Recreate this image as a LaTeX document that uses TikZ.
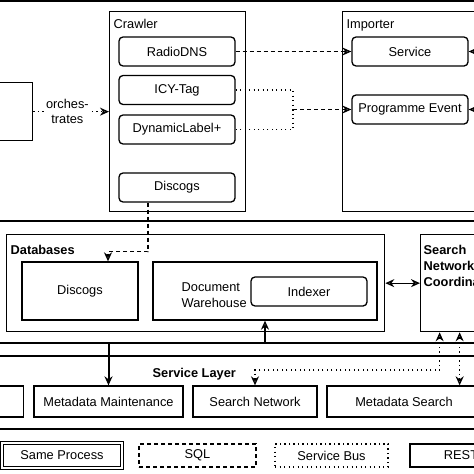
\documentclass[tikz,border=0pt]{standalone}
\usepackage{fontspec}
\setmainfont{Liberation Sans}
\usetikzlibrary{arrows.meta,calc}

\begin{document}
\begin{tikzpicture}[x=1pt, y=-1pt, line width=1.3pt, >={Stealth[length=9pt,width=8pt,fill=gray!40]},
    font=\fontsize{12.8}{16}\selectfont,
    box/.style={draw, minimum width=#1, minimum height=29pt, inner sep=0pt},
    box/.default=116pt,
    rbox/.style={box=#1, rounded corners=4pt},
    rbox/.default=116pt,
    layer/.style={draw, inner sep=0pt, anchor=north west},
    title/.style={anchor=base west, inner sep=0pt},
    sql/.style={dash pattern=on 4pt off 3pt},
    bus/.style={dash pattern=on 1.2pt off 3.3pt},
    proc/.style={line width=2pt}]
    \fill[white] (0,0) rectangle (474,474);
    \path[use as bounding box] (0,0) rectangle (474,474);
    \clip (0,0) rectangle (474,474);
    % layer borders
    \draw[line width=2.5pt] (-5,0.5) -- (479,0.5);
    \draw[line width=2pt] (-5,221) -- (479,221);
    \draw (-5,343) -- (479,343);
    \draw (-5,356) -- (479,356);
    \draw[proc] (-5,428.5) -- (479,428.5);
    % crawler and importer
    \node[layer, minimum width=90pt, minimum height=58pt] (orch) at (-58,82) {};
    \node[layer, minimum width=136pt, minimum height=200pt] (crawler) at (109,11) {};
    \node[title] at (113,28) {Crawler};
    \node[rbox] (radiodns) at (177,51.5) {RadioDNS};
    \node[rbox] (icy) at (177,90) {ICY-Tag};
    \node[rbox] (dls) at (177,129.5) {DynamicLabel+};
    \node[rbox] (crdiscogs) at (177,187.5) {Discogs};
    \node[layer, minimum width=180pt, minimum height=200pt] (importer) at (342,11) {};
    \node[title] at (346,28) {Importer};
    \node[rbox] (service) at (410,51.5) {Service};
    \node[rbox] (progevent) at (410,109.5) {Programme Event};
    % databases
    \node[layer, minimum width=378pt, minimum height=97pt] (databases) at (6,234) {};
    \node[title, font=\fontsize{12.8}{16}\selectfont\bfseries] at (10,254) {Databases};
    \node[box, minimum height=58pt] (dbdiscogs) at (80,291) {Discogs};
    \node[box=224pt, minimum height=58pt] (warehouse) at (265,291) {};
    \node[anchor=west, inner sep=0pt, align=left] at (181,295) {Document\\Warehouse};
    \node[rbox] (indexer) at (309,291.5) {Indexer};
    \node[layer, minimum width=100pt, minimum height=97pt] (snc) at (420,234) {};
    \node[anchor=north west, inner sep=0pt, align=left, font=\fontsize{12.8}{16}\selectfont\bfseries] at (423,245) {Search\\Network\\Coordinator};
    % service layer
    \node[title, font=\fontsize{12.8}{16}\selectfont\bfseries] at (152,377) {Service Layer};
    \node[box=83pt, minimum height=31pt] (svcleft) at (-18,401.5) {};
    \node[box=149pt, minimum height=31pt] (maint) at (108.5,401.5) {Metadata Maintenance};
    \node[box=124pt, minimum height=31pt] (searchnet) at (255,401.5) {Search Network};
    \node[box=154pt, minimum height=31pt] (mdsearch) at (404,401.5) {Metadata Search};
    % legend
    \node[box=120pt, minimum height=25pt, double, double distance=1.5pt] (lgproc) at (62,455.5) {Same Process};
    \node[box=117pt, minimum height=23pt, sql] (lgsql) at (197.5,455.5) {SQL};
    \node[box=113pt, minimum height=23pt, bus] (lgbus) at (331.5,455.5) {Service Bus};
    \node[box=102pt, minimum height=23pt] (lgrest) at (461,455.5) {REST};
    % connections
    \draw[bus,->] (orch.east) -- node[pos=0.45, fill=white, align=center, inner sep=1pt, font=\fontsize{12.8}{15}\selectfont] {orches-\\trates} (crawler.west);
    \draw[sql,->] (radiodns) -- (service);
    \coordinate (merge) at (293,109.5);
    \draw[bus] (icy.east) -| (merge) |- (dls.east);
    \draw[sql,->] (merge) -- (progevent.west);
    \draw[sql,->] (490,51.5) -- (service.east);
    \draw[sql,->] (490,109.5) -- (progevent.east);
    \draw[sql,->] ([xshift=-29pt]crdiscogs.south) -- ++(0,49) -| ([xshift=28pt]dbdiscogs.north);
    \draw[<->] (databases) -- (snc);
    \draw[->] (warehouse.south |- 0,343) -- (warehouse.south);
    \draw[proc,->] (maint.north |- 0,343) -- (maint.north);
    \coordinate (sncA) at ($(snc.south)+(-31,0)$);
    \coordinate (sncB) at ($(snc.south)+(-11,0)$);
    \draw[bus,<->] (sncA) |- (searchnet.north |- 0,370) -- (searchnet.north);
    \draw[bus,<->] (sncB) -- (sncB |- mdsearch.north);
\end{tikzpicture}
\end{document}
